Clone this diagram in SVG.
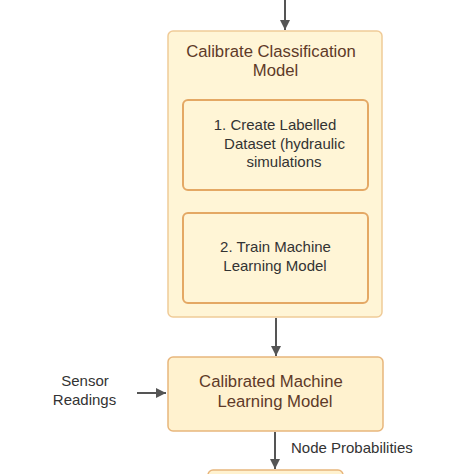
<svg xmlns="http://www.w3.org/2000/svg" width="474" height="474" viewBox="0 0 474 474">
<defs>
<marker id="ah" viewBox="0 0 10 10" refX="10" refY="5" markerWidth="10" markerHeight="10" markerUnits="userSpaceOnUse" orient="auto">
<path d="M0,0 L10,5 L0,10 Z" fill="#555"/>
</marker>
<style>
.outer{fill:#fff5d6;stroke:#f0cb98;stroke-width:1.5}
.inner{fill:#fff5d6;stroke:#e4a864;stroke-width:2}
.box{fill:#fff2cf;stroke:#e8b67c;stroke-width:1.5}
.title{font-family:"Liberation Sans",Arial,sans-serif;font-size:16.7px;fill:#5e3a28;text-anchor:middle}
.body{font-family:"Liberation Sans",Arial,sans-serif;font-size:15px;fill:#333;text-anchor:middle}
.lbl{font-family:"Liberation Sans",Arial,sans-serif;font-size:15px;fill:#333}
.conn{stroke:#555;stroke-width:2;fill:none;marker-end:url(#ah)}
</style>
</defs>
<rect width="474" height="474" fill="#fff"/>
<g id="calibrate">
<rect class="outer" x="168" y="31" width="214" height="286" rx="5"/>
<text class="title" x="271" y="57">Calibrate Classification</text>
<text class="title" x="275.5" y="76">Model</text>
</g>
<g id="step1">
<rect class="inner" x="183" y="100" width="185" height="90" rx="5"/>
<text class="body" x="275" y="130">1. Create Labelled</text>
<text class="body" x="284.5" y="149">Dataset (hydraulic</text>
<text class="body" x="284" y="167">simulations</text>
</g>
<g id="step2">
<rect class="inner" x="183" y="213" width="185" height="90" rx="5"/>
<text class="body" x="275.5" y="252">2. Train Machine</text>
<text class="body" x="275" y="271">Learning Model</text>
</g>
<g id="calibrated">
<rect class="box" x="168" y="357" width="215" height="74" rx="5"/>
<text class="title" x="271" y="387">Calibrated Machine</text>
<text class="title" x="275" y="407">Learning Model</text>
</g>
<g id="next">
<rect class="box" x="208" y="470" width="135" height="20" rx="5"/>
</g>
<g id="sensor">
<text class="body" x="85" y="386">Sensor</text>
<text class="body" x="84.5" y="405">Readings</text>
</g>
<g id="connectors">
<line class="conn" x1="285" y1="0" x2="285" y2="30"/>
<line class="conn" x1="276" y1="318" x2="276" y2="356"/>
<line class="conn" x1="137" y1="393" x2="166" y2="393"/>
<line class="conn" x1="275" y1="432" x2="275" y2="469"/>
<text class="lbl" x="291" y="453">Node Probabilities</text>
</g>
</svg>
